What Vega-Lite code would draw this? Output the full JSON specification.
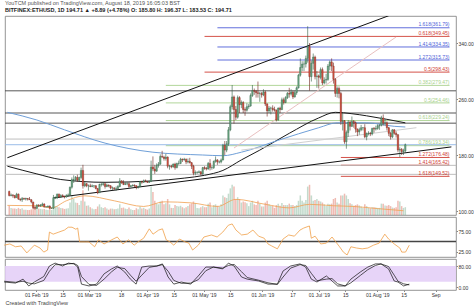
{
"$schema": "https://vega.github.io/schema/vega-lite/v6.json",
"padding": {"left": 2, "top": 1, "right": 0, "bottom": 0},
"background": "white",
"title": {"text": "YouTCM published on TradingView.com, August 18, 2019 16:05:03 BST", "subtitle": "BITFINEX:ETHUSD, 1D  194.71 ▲ +8.89 (+4.78%) O: 185.80 H: 196.37 L: 183.53 C: 194.71", "anchor": "start", "frame": "group", "fontSize": 5.5, "fontWeight": "normal", "color": "#555", "subtitleFontSize": 5.5, "subtitleColor": "#222", "subtitleFontWeight": "bold", "subtitlePadding": 1.5, "offset": 2, "font": "Liberation Sans", "subtitleFont": "Liberation Sans"},
"datasets": {
"ohlc": [
{"t":"2019-01-15","o":128,"h":129,"l":121,"c":122,"v":25},
{"t":"2019-01-16","o":122,"h":125,"l":121,"c":123,"v":20},
{"t":"2019-01-17","o":123,"h":124,"l":119,"c":122,"v":18},
{"t":"2019-01-18","o":122,"h":123,"l":118,"c":119,"v":18},
{"t":"2019-01-19","o":119,"h":126,"l":119,"c":124,"v":17},
{"t":"2019-01-20","o":124,"h":125,"l":116,"c":117,"v":20},
{"t":"2019-01-21","o":117,"h":118,"l":114,"c":116,"v":17},
{"t":"2019-01-22","o":116,"h":120,"l":113,"c":118,"v":19},
{"t":"2019-01-23","o":118,"h":119,"l":116,"c":117,"v":15},
{"t":"2019-01-24","o":117,"h":119,"l":115,"c":118,"v":15},
{"t":"2019-01-25","o":118,"h":118,"l":115,"c":117,"v":14},
{"t":"2019-01-26","o":117,"h":120,"l":116,"c":116,"v":14},
{"t":"2019-01-27","o":116,"h":117,"l":111,"c":113,"v":16},
{"t":"2019-01-28","o":113,"h":113,"l":103,"c":105,"v":28},
{"t":"2019-01-29","o":105,"h":107,"l":102,"c":104,"v":22},
{"t":"2019-01-30","o":104,"h":110,"l":103,"c":108,"v":20},
{"t":"2019-01-31","o":108,"h":110,"l":106,"c":107,"v":18},
{"t":"2019-02-01","o":107,"h":110,"l":106,"c":108,"v":17},
{"t":"2019-02-02","o":108,"h":112,"l":107,"c":110,"v":16},
{"t":"2019-02-03","o":110,"h":111,"l":105,"c":106,"v":17},
{"t":"2019-02-04","o":106,"h":107,"l":105,"c":106,"v":15},
{"t":"2019-02-05","o":106,"h":108,"l":105,"c":107,"v":14},
{"t":"2019-02-06","o":107,"h":108,"l":103,"c":104,"v":17},
{"t":"2019-02-07","o":104,"h":105,"l":103,"c":104,"v":14},
{"t":"2019-02-08","o":104,"h":123,"l":103,"c":119,"v":45},
{"t":"2019-02-09","o":119,"h":121,"l":117,"c":119,"v":25},
{"t":"2019-02-10","o":119,"h":125,"l":117,"c":124,"v":24},
{"t":"2019-02-11","o":124,"h":125,"l":119,"c":120,"v":22},
{"t":"2019-02-12","o":120,"h":124,"l":119,"c":122,"v":20},
{"t":"2019-02-13","o":122,"h":124,"l":120,"c":121,"v":19},
{"t":"2019-02-14","o":121,"h":122,"l":118,"c":120,"v":17},
{"t":"2019-02-15","o":120,"h":124,"l":119,"c":122,"v":18},
{"t":"2019-02-16","o":122,"h":125,"l":121,"c":123,"v":19},
{"t":"2019-02-17","o":123,"h":135,"l":122,"c":134,"v":35},
{"t":"2019-02-18","o":134,"h":148,"l":132,"c":145,"v":55},
{"t":"2019-02-19","o":145,"h":151,"l":140,"c":145,"v":45},
{"t":"2019-02-20","o":145,"h":150,"l":143,"c":148,"v":35},
{"t":"2019-02-21","o":148,"h":152,"l":142,"c":144,"v":34},
{"t":"2019-02-22","o":144,"h":149,"l":143,"c":148,"v":28},
{"t":"2019-02-23","o":148,"h":162,"l":146,"c":158,"v":40},
{"t":"2019-02-24","o":158,"h":166,"l":132,"c":136,"v":70},
{"t":"2019-02-25","o":136,"h":142,"l":134,"c":139,"v":38},
{"t":"2019-02-26","o":139,"h":140,"l":134,"c":136,"v":26},
{"t":"2019-02-27","o":136,"h":138,"l":129,"c":136,"v":27},
{"t":"2019-02-28","o":136,"h":139,"l":134,"c":135,"v":22},
{"t":"2019-03-01","o":135,"h":138,"l":134,"c":136,"v":18},
{"t":"2019-03-02","o":136,"h":137,"l":133,"c":136,"v":16},
{"t":"2019-03-03","o":136,"h":137,"l":131,"c":132,"v":17},
{"t":"2019-03-04","o":132,"h":133,"l":124,"c":126,"v":24},
{"t":"2019-03-05","o":126,"h":139,"l":126,"c":138,"v":30},
{"t":"2019-03-06","o":138,"h":140,"l":135,"c":138,"v":22},
{"t":"2019-03-07","o":138,"h":141,"l":136,"c":139,"v":20},
{"t":"2019-03-08","o":139,"h":141,"l":132,"c":135,"v":22},
{"t":"2019-03-09","o":135,"h":139,"l":134,"c":137,"v":18},
{"t":"2019-03-10","o":137,"h":138,"l":134,"c":136,"v":15},
{"t":"2019-03-11","o":136,"h":137,"l":131,"c":133,"v":18},
{"t":"2019-03-12","o":133,"h":135,"l":130,"c":133,"v":18},
{"t":"2019-03-13","o":133,"h":134,"l":130,"c":132,"v":16},
{"t":"2019-03-14","o":132,"h":135,"l":129,"c":132,"v":17},
{"t":"2019-03-15","o":132,"h":137,"l":131,"c":135,"v":18},
{"t":"2019-03-16","o":135,"h":147,"l":134,"c":143,"v":30},
{"t":"2019-03-17","o":143,"h":144,"l":139,"c":140,"v":20},
{"t":"2019-03-18","o":140,"h":144,"l":137,"c":138,"v":21},
{"t":"2019-03-19","o":138,"h":141,"l":137,"c":139,"v":18},
{"t":"2019-03-20","o":139,"h":141,"l":137,"c":139,"v":17},
{"t":"2019-03-21","o":139,"h":141,"l":133,"c":135,"v":21},
{"t":"2019-03-22","o":135,"h":137,"l":134,"c":136,"v":16},
{"t":"2019-03-23","o":136,"h":138,"l":135,"c":137,"v":14},
{"t":"2019-03-24","o":137,"h":138,"l":134,"c":136,"v":14},
{"t":"2019-03-25","o":136,"h":137,"l":131,"c":134,"v":19},
{"t":"2019-03-26","o":134,"h":136,"l":132,"c":135,"v":16},
{"t":"2019-03-27","o":135,"h":143,"l":134,"c":142,"v":24},
{"t":"2019-03-28","o":142,"h":143,"l":139,"c":141,"v":18},
{"t":"2019-03-29","o":141,"h":145,"l":140,"c":143,"v":20},
{"t":"2019-03-30","o":143,"h":145,"l":141,"c":142,"v":17},
{"t":"2019-03-31","o":142,"h":143,"l":140,"c":141,"v":15},
{"t":"2019-04-01","o":141,"h":143,"l":140,"c":142,"v":18},
{"t":"2019-04-02","o":142,"h":172,"l":142,"c":163,"v":80},
{"t":"2019-04-03","o":163,"h":178,"l":157,"c":160,"v":65},
{"t":"2019-04-04","o":160,"h":166,"l":153,"c":157,"v":40},
{"t":"2019-04-05","o":157,"h":168,"l":156,"c":165,"v":32},
{"t":"2019-04-06","o":165,"h":170,"l":162,"c":167,"v":30},
{"t":"2019-04-07","o":167,"h":181,"l":166,"c":178,"v":38},
{"t":"2019-04-08","o":178,"h":186,"l":176,"c":177,"v":40},
{"t":"2019-04-09","o":177,"h":179,"l":172,"c":175,"v":30},
{"t":"2019-04-10","o":175,"h":182,"l":172,"c":177,"v":33},
{"t":"2019-04-11","o":177,"h":178,"l":161,"c":164,"v":45},
{"t":"2019-04-12","o":164,"h":166,"l":159,"c":164,"v":30},
{"t":"2019-04-13","o":164,"h":166,"l":161,"c":163,"v":20},
{"t":"2019-04-14","o":163,"h":168,"l":162,"c":167,"v":20},
{"t":"2019-04-15","o":167,"h":169,"l":159,"c":162,"v":28},
{"t":"2019-04-16","o":162,"h":169,"l":161,"c":168,"v":25},
{"t":"2019-04-17","o":168,"h":172,"l":166,"c":168,"v":24},
{"t":"2019-04-18","o":168,"h":176,"l":167,"c":174,"v":26},
{"t":"2019-04-19","o":174,"h":175,"l":170,"c":173,"v":22},
{"t":"2019-04-20","o":173,"h":176,"l":172,"c":174,"v":19},
{"t":"2019-04-21","o":174,"h":175,"l":167,"c":170,"v":22},
{"t":"2019-04-22","o":170,"h":175,"l":168,"c":171,"v":25},
{"t":"2019-04-23","o":171,"h":176,"l":168,"c":169,"v":30},
{"t":"2019-04-24","o":169,"h":170,"l":160,"c":164,"v":33},
{"t":"2019-04-25","o":164,"h":166,"l":151,"c":154,"v":38},
{"t":"2019-04-26","o":154,"h":158,"l":151,"c":155,"v":33},
{"t":"2019-04-27","o":155,"h":157,"l":153,"c":155,"v":20},
{"t":"2019-04-28","o":155,"h":158,"l":154,"c":156,"v":19},
{"t":"2019-04-29","o":156,"h":157,"l":151,"c":153,"v":22},
{"t":"2019-04-30","o":153,"h":163,"l":152,"c":162,"v":25},
{"t":"2019-05-01","o":162,"h":164,"l":159,"c":161,"v":22},
{"t":"2019-05-02","o":161,"h":163,"l":158,"c":160,"v":22},
{"t":"2019-05-03","o":160,"h":170,"l":159,"c":168,"v":32},
{"t":"2019-05-04","o":168,"h":174,"l":158,"c":162,"v":35},
{"t":"2019-05-05","o":162,"h":164,"l":159,"c":162,"v":22},
{"t":"2019-05-06","o":162,"h":172,"l":160,"c":171,"v":28},
{"t":"2019-05-07","o":171,"h":178,"l":169,"c":173,"v":30},
{"t":"2019-05-08","o":173,"h":174,"l":166,"c":170,"v":26},
{"t":"2019-05-09","o":170,"h":172,"l":168,"c":170,"v":24},
{"t":"2019-05-10","o":170,"h":175,"l":168,"c":173,"v":30},
{"t":"2019-05-11","o":173,"h":196,"l":172,"c":194,"v":55},
{"t":"2019-05-12","o":194,"h":200,"l":180,"c":187,"v":50},
{"t":"2019-05-13","o":187,"h":200,"l":184,"c":196,"v":48},
{"t":"2019-05-14","o":196,"h":220,"l":193,"c":216,"v":60},
{"t":"2019-05-15","o":216,"h":252,"l":214,"c":249,"v":75},
{"t":"2019-05-16","o":249,"h":280,"l":245,"c":263,"v":85},
{"t":"2019-05-17","o":263,"h":265,"l":225,"c":245,"v":80},
{"t":"2019-05-18","o":245,"h":250,"l":230,"c":234,"v":45},
{"t":"2019-05-19","o":234,"h":265,"l":232,"c":262,"v":50},
{"t":"2019-05-20","o":262,"h":264,"l":240,"c":252,"v":45},
{"t":"2019-05-21","o":252,"h":258,"l":247,"c":255,"v":35},
{"t":"2019-05-22","o":255,"h":257,"l":240,"c":245,"v":38},
{"t":"2019-05-23","o":245,"h":248,"l":236,"c":244,"v":36},
{"t":"2019-05-24","o":244,"h":254,"l":242,"c":249,"v":33},
{"t":"2019-05-25","o":249,"h":253,"l":246,"c":250,"v":25},
{"t":"2019-05-26","o":250,"h":268,"l":249,"c":265,"v":35},
{"t":"2019-05-27","o":265,"h":280,"l":263,"c":272,"v":40},
{"t":"2019-05-28","o":272,"h":275,"l":266,"c":271,"v":30},
{"t":"2019-05-29","o":271,"h":273,"l":262,"c":269,"v":28},
{"t":"2019-05-30","o":269,"h":285,"l":262,"c":268,"v":40},
{"t":"2019-05-31","o":268,"h":270,"l":256,"c":268,"v":32},
{"t":"2019-06-01","o":268,"h":270,"l":262,"c":266,"v":24},
{"t":"2019-06-02","o":266,"h":274,"l":264,"c":270,"v":24},
{"t":"2019-06-03","o":270,"h":272,"l":250,"c":253,"v":35},
{"t":"2019-06-04","o":253,"h":254,"l":235,"c":243,"v":40},
{"t":"2019-06-05","o":243,"h":250,"l":240,"c":247,"v":30},
{"t":"2019-06-06","o":247,"h":249,"l":238,"c":247,"v":26},
{"t":"2019-06-07","o":247,"h":251,"l":242,"c":245,"v":26},
{"t":"2019-06-08","o":245,"h":249,"l":242,"c":244,"v":20},
{"t":"2019-06-09","o":244,"h":245,"l":228,"c":230,"v":28},
{"t":"2019-06-10","o":230,"h":248,"l":229,"c":247,"v":32},
{"t":"2019-06-11","o":247,"h":249,"l":240,"c":245,"v":26},
{"t":"2019-06-12","o":245,"h":262,"l":244,"c":259,"v":34},
{"t":"2019-06-13","o":259,"h":262,"l":252,"c":255,"v":28},
{"t":"2019-06-14","o":255,"h":264,"l":254,"c":262,"v":28},
{"t":"2019-06-15","o":262,"h":270,"l":260,"c":268,"v":28},
{"t":"2019-06-16","o":268,"h":276,"l":262,"c":267,"v":32},
{"t":"2019-06-17","o":267,"h":274,"l":265,"c":270,"v":28},
{"t":"2019-06-18","o":270,"h":272,"l":260,"c":263,"v":28},
{"t":"2019-06-19","o":263,"h":272,"l":262,"c":269,"v":25},
{"t":"2019-06-20","o":269,"h":278,"l":266,"c":276,"v":28},
{"t":"2019-06-21","o":276,"h":296,"l":275,"c":294,"v":40},
{"t":"2019-06-22","o":294,"h":318,"l":292,"c":305,"v":55},
{"t":"2019-06-23","o":305,"h":314,"l":300,"c":310,"v":40},
{"t":"2019-06-24","o":310,"h":314,"l":300,"c":310,"v":35},
{"t":"2019-06-25","o":310,"h":322,"l":305,"c":318,"v":42},
{"t":"2019-06-26","o":318,"h":364,"l":312,"c":335,"v":80},
{"t":"2019-06-27","o":335,"h":340,"l":272,"c":292,"v":85},
{"t":"2019-06-28","o":292,"h":315,"l":285,"c":311,"v":55},
{"t":"2019-06-29","o":311,"h":325,"l":302,"c":320,"v":40},
{"t":"2019-06-30","o":320,"h":322,"l":288,"c":292,"v":42},
{"t":"2019-07-01","o":292,"h":300,"l":276,"c":293,"v":45},
{"t":"2019-07-02","o":293,"h":295,"l":275,"c":291,"v":40},
{"t":"2019-07-03","o":291,"h":305,"l":288,"c":302,"v":38},
{"t":"2019-07-04","o":302,"h":305,"l":280,"c":283,"v":35},
{"t":"2019-07-05","o":283,"h":291,"l":281,"c":287,"v":30},
{"t":"2019-07-06","o":287,"h":296,"l":282,"c":288,"v":25},
{"t":"2019-07-07","o":288,"h":310,"l":286,"c":307,"v":32},
{"t":"2019-07-08","o":307,"h":315,"l":301,"c":313,"v":30},
{"t":"2019-07-09","o":313,"h":318,"l":300,"c":307,"v":32},
{"t":"2019-07-10","o":307,"h":312,"l":282,"c":288,"v":45},
{"t":"2019-07-11","o":288,"h":290,"l":263,"c":268,"v":48},
{"t":"2019-07-12","o":268,"h":278,"l":262,"c":275,"v":35},
{"t":"2019-07-13","o":275,"h":278,"l":261,"c":268,"v":32},
{"t":"2019-07-14","o":268,"h":270,"l":223,"c":228,"v":55},
{"t":"2019-07-15","o":228,"h":240,"l":215,"c":229,"v":55},
{"t":"2019-07-16","o":229,"h":230,"l":196,"c":199,"v":60},
{"t":"2019-07-17","o":199,"h":215,"l":189,"c":212,"v":55},
{"t":"2019-07-18","o":212,"h":230,"l":206,"c":227,"v":45},
{"t":"2019-07-19","o":227,"h":229,"l":215,"c":221,"v":33},
{"t":"2019-07-20","o":221,"h":235,"l":220,"c":228,"v":30},
{"t":"2019-07-21","o":228,"h":230,"l":219,"c":226,"v":26},
{"t":"2019-07-22","o":226,"h":228,"l":212,"c":217,"v":28},
{"t":"2019-07-23","o":217,"h":218,"l":207,"c":213,"v":30},
{"t":"2019-07-24","o":213,"h":219,"l":209,"c":216,"v":27},
{"t":"2019-07-25","o":216,"h":223,"l":214,"c":219,"v":24},
{"t":"2019-07-26","o":219,"h":220,"l":215,"c":219,"v":20},
{"t":"2019-07-27","o":219,"h":224,"l":204,"c":206,"v":30},
{"t":"2019-07-28","o":206,"h":212,"l":201,"c":211,"v":25},
{"t":"2019-07-29","o":211,"h":214,"l":208,"c":211,"v":20},
{"t":"2019-07-30","o":211,"h":213,"l":207,"c":210,"v":19},
{"t":"2019-07-31","o":210,"h":219,"l":208,"c":218,"v":22},
{"t":"2019-08-01","o":218,"h":220,"l":212,"c":217,"v":22},
{"t":"2019-08-02","o":217,"h":222,"l":215,"c":218,"v":21},
{"t":"2019-08-03","o":218,"h":224,"l":216,"c":222,"v":20},
{"t":"2019-08-04","o":222,"h":224,"l":216,"c":222,"v":20},
{"t":"2019-08-05","o":222,"h":236,"l":221,"c":233,"v":32},
{"t":"2019-08-06","o":233,"h":238,"l":222,"c":226,"v":32},
{"t":"2019-08-07","o":226,"h":231,"l":222,"c":226,"v":27},
{"t":"2019-08-08","o":226,"h":228,"l":215,"c":219,"v":26},
{"t":"2019-08-09","o":219,"h":220,"l":207,"c":211,"v":28},
{"t":"2019-08-10","o":211,"h":213,"l":202,"c":206,"v":25},
{"t":"2019-08-11","o":206,"h":217,"l":204,"c":216,"v":21},
{"t":"2019-08-12","o":216,"h":217,"l":209,"c":211,"v":20},
{"t":"2019-08-13","o":211,"h":214,"l":205,"c":209,"v":22},
{"t":"2019-08-14","o":209,"h":210,"l":184,"c":187,"v":40},
{"t":"2019-08-15","o":187,"h":191,"l":177,"c":188,"v":38},
{"t":"2019-08-16","o":188,"h":190,"l":180,"c":185,"v":25},
{"t":"2019-08-17","o":185,"h":189,"l":180,"c":186,"v":20},
{"t":"2019-08-18","o":185.8,"h":196.37,"l":183.53,"c":194.71,"v":22}
],
"vma": [
{"t":"2019-01-14","v":27},{"t":"2019-01-30","v":26},{"t":"2019-02-07","v":20},{"t":"2019-02-15","v":40},{"t":"2019-02-25","v":54},{"t":"2019-03-13","v":40},{"t":"2019-03-29","v":24},{"t":"2019-04-09","v":37},{"t":"2019-04-24","v":34},{"t":"2019-05-08","v":24},{"t":"2019-05-18","v":44},{"t":"2019-06-03","v":30},{"t":"2019-06-16","v":20},{"t":"2019-06-27","v":30},{"t":"2019-07-10","v":26},{"t":"2019-07-21","v":24},{"t":"2019-08-03","v":18},{"t":"2019-08-17","v":12}
],
"ln": [
{"id":"b","t":"2019-01-14","p":164},{"id":"b","t":"2019-01-30","p":153},{"id":"b","t":"2019-02-12","p":145},{"id":"b","t":"2019-03-08","p":141},{"id":"b","t":"2019-04-03","p":143},{"id":"b","t":"2019-04-20","p":147},{"id":"b","t":"2019-05-01","p":151},{"id":"b","t":"2019-05-11","p":158},{"id":"b","t":"2019-05-21","p":173},{"id":"b","t":"2019-05-31","p":187},{"id":"b","t":"2019-06-16","p":211},{"id":"b","t":"2019-07-02","p":233},{"id":"b","t":"2019-07-11","p":241},{"id":"b","t":"2019-07-20","p":239},{"id":"b","t":"2019-07-28","p":236},{"id":"b","t":"2019-08-08","p":231},{"id":"b","t":"2019-08-18","p":226},
{"id":"u","t":"2019-01-14","p":241},{"id":"u","t":"2019-01-30","p":230},{"id":"u","t":"2019-02-14","p":216},{"id":"u","t":"2019-03-08","p":197},{"id":"u","t":"2019-04-03","p":184},{"id":"u","t":"2019-04-30","p":180},{"id":"u","t":"2019-05-11","p":179},{"id":"u","t":"2019-05-21","p":184},{"id":"u","t":"2019-06-10","p":201},{"id":"u","t":"2019-07-02","p":219},{"id":"u","t":"2019-07-12","p":226},{"id":"u","t":"2019-07-28","p":226},{"id":"u","t":"2019-08-12","p":221},{"id":"u","t":"2019-08-18","p":220},
{"id":"up","t":"2019-01-14","p":176.1},{"id":"up","t":"2019-08-09","p":379},
{"id":"lo","t":"2019-02-08","p":118.6},{"id":"lo","t":"2019-09-12","p":191.6},
{"id":"f1","t":"2019-05-17","p":190},{"id":"f1","t":"2019-08-13","p":348.6},
{"id":"f2","t":"2019-05-21","p":187},{"id":"f2","t":"2019-08-24","p":219}
],
"hl": [
{"k":"ext","p":361.79,"s":"2019-05-08","e":"2019-09-11","lab":"1.618(361.79)"},
{"k":"red","p":349.45,"s":"2019-05-01","e":"2019-09-11","lab":"0.618(349.45)"},
{"k":"ext","p":334.35,"s":"2019-05-08","e":"2019-09-11","lab":"1.414(334.35)"},
{"k":"ext","p":315.73,"s":"2019-05-08","e":"2019-09-11","lab":"1.272(315.73)"},
{"k":"red","p":298.43,"s":"2019-05-01","e":"2019-09-11","lab":"0.5(298.43)"},
{"k":"grn","p":279.47,"s":"2019-04-10","e":"2019-09-11","lab":"0.382(279.47)"},
{"k":"grn","p":254.46,"s":"2019-04-10","e":"2019-09-11","lab":"0.5(254.46)"},
{"k":"grn","p":229.24,"s":"2019-04-10","e":"2019-09-11","lab":"0.618(229.24)"},
{"k":"grn","p":193.34,"s":"2019-04-10","e":"2019-09-11","lab":"0.786(193.34)"},
{"k":"red","p":176.48,"s":"2019-07-14","e":"2019-09-11","lab":"1.272(176.48)"},
{"k":"red","p":165.42,"s":"2019-07-14","e":"2019-09-11","lab":"1.414(165.42)"},
{"k":"red","p":149.52,"s":"2019-07-14","e":"2019-09-11","lab":"1.618(149.52)"},
{"k":"dark","p":271.7,"s":"2019-01-01","e":"2019-09-30","lab":""},
{"k":"dark","p":240,"s":"2019-01-01","e":"2019-09-30","lab":""},
{"k":"dark","p":225.5,"s":"2019-01-01","e":"2019-09-30","lab":""},
{"k":"gray","p":202.79,"s":"2019-01-01","e":"2019-09-30","lab":""},
{"k":"gray","p":165.23,"s":"2019-01-01","e":"2019-09-30","lab":""},
{"k":"gray","p":152.38,"s":"2019-01-01","e":"2019-09-30","lab":""},
{"k":"cur","p":194.71,"s":"2019-01-01","e":"2019-09-30","lab":""}
],
"rsi": [
{"t":"2019-01-15","r":41},{"t":"2019-01-18","r":44},{"t":"2019-01-21","r":37},{"t":"2019-01-24","r":39},{"t":"2019-01-27","r":22},{"t":"2019-01-31","r":41},{"t":"2019-02-03","r":34},{"t":"2019-02-05","r":24},{"t":"2019-02-07","r":29},{"t":"2019-02-08","r":73},{"t":"2019-02-10","r":68},{"t":"2019-02-13","r":73},{"t":"2019-02-16","r":78},{"t":"2019-02-18","r":85},{"t":"2019-02-20","r":85},{"t":"2019-02-22","r":80},{"t":"2019-02-23","r":83},{"t":"2019-02-24","r":49},{"t":"2019-02-27","r":49},{"t":"2019-03-01","r":49},{"t":"2019-03-04","r":37},{"t":"2019-03-06","r":54},{"t":"2019-03-09","r":44},{"t":"2019-03-13","r":54},{"t":"2019-03-16","r":61},{"t":"2019-03-19","r":44},{"t":"2019-03-22","r":54},{"t":"2019-03-25","r":41},{"t":"2019-03-27","r":49},{"t":"2019-03-30","r":58},{"t":"2019-04-02","r":81},{"t":"2019-04-04","r":68},{"t":"2019-04-07","r":78},{"t":"2019-04-09","r":81},{"t":"2019-04-11","r":54},{"t":"2019-04-13","r":49},{"t":"2019-04-15","r":41},{"t":"2019-04-18","r":56},{"t":"2019-04-21","r":49},{"t":"2019-04-23","r":46},{"t":"2019-04-25","r":29},{"t":"2019-04-28","r":41},{"t":"2019-05-01","r":61},{"t":"2019-05-05","r":66},{"t":"2019-05-08","r":61},{"t":"2019-05-11","r":73},{"t":"2019-05-14","r":90},{"t":"2019-05-16","r":93},{"t":"2019-05-18","r":78},{"t":"2019-05-21","r":66},{"t":"2019-05-24","r":68},{"t":"2019-05-27","r":78},{"t":"2019-05-30","r":63},{"t":"2019-06-02","r":58},{"t":"2019-06-04","r":44},{"t":"2019-06-06","r":39},{"t":"2019-06-09","r":32},{"t":"2019-06-12","r":56},{"t":"2019-06-15","r":66},{"t":"2019-06-18","r":63},{"t":"2019-06-21","r":78},{"t":"2019-06-23","r":83},{"t":"2019-06-26","r":88},{"t":"2019-06-27","r":58},{"t":"2019-06-29","r":63},{"t":"2019-07-02","r":44},{"t":"2019-07-05","r":46},{"t":"2019-07-08","r":61},{"t":"2019-07-10","r":49},{"t":"2019-07-12","r":37},{"t":"2019-07-14","r":24},{"t":"2019-07-16","r":17},{"t":"2019-07-18","r":37},{"t":"2019-07-21","r":34},{"t":"2019-07-24","r":32},{"t":"2019-07-27","r":34},{"t":"2019-07-30","r":41},{"t":"2019-08-02","r":46},{"t":"2019-08-05","r":68},{"t":"2019-08-07","r":56},{"t":"2019-08-10","r":44},{"t":"2019-08-13","r":34},{"t":"2019-08-14","r":24},{"t":"2019-08-16","r":24},{"t":"2019-08-18","r":41}
],
"st": [
{"s":"K","t":"2019-01-15","v":19},{"s":"K","t":"2019-01-21","v":15},{"s":"K","t":"2019-01-25","v":30},{"s":"K","t":"2019-01-28","v":4},{"s":"K","t":"2019-01-31","v":19},{"s":"K","t":"2019-02-05","v":40},{"s":"K","t":"2019-02-08","v":80},{"s":"K","t":"2019-02-11","v":91},{"s":"K","t":"2019-02-15","v":80},{"s":"K","t":"2019-02-18","v":91},{"s":"K","t":"2019-02-21","v":88},{"s":"K","t":"2019-02-23","v":76},{"s":"K","t":"2019-02-25","v":11},{"s":"K","t":"2019-03-01","v":4},{"s":"K","t":"2019-03-05","v":11},{"s":"K","t":"2019-03-09","v":50},{"s":"K","t":"2019-03-13","v":69},{"s":"K","t":"2019-03-16","v":80},{"s":"K","t":"2019-03-20","v":57},{"s":"K","t":"2019-03-23","v":30},{"s":"K","t":"2019-03-26","v":11},{"s":"K","t":"2019-03-29","v":76},{"s":"K","t":"2019-04-02","v":80},{"s":"K","t":"2019-04-06","v":80},{"s":"K","t":"2019-04-09","v":88},{"s":"K","t":"2019-04-12","v":38},{"s":"K","t":"2019-04-15","v":11},{"s":"K","t":"2019-04-19","v":19},{"s":"K","t":"2019-04-24","v":11},{"s":"K","t":"2019-04-28","v":42},{"s":"K","t":"2019-05-02","v":76},{"s":"K","t":"2019-05-06","v":76},{"s":"K","t":"2019-05-11","v":69},{"s":"K","t":"2019-05-14","v":91},{"s":"K","t":"2019-05-17","v":80},{"s":"K","t":"2019-05-21","v":38},{"s":"K","t":"2019-05-24","v":30},{"s":"K","t":"2019-05-30","v":23},{"s":"K","t":"2019-06-04","v":11},{"s":"K","t":"2019-06-09","v":11},{"s":"K","t":"2019-06-12","v":61},{"s":"K","t":"2019-06-16","v":80},{"s":"K","t":"2019-06-21","v":88},{"s":"K","t":"2019-06-24","v":76},{"s":"K","t":"2019-06-27","v":30},{"s":"K","t":"2019-06-30","v":19},{"s":"K","t":"2019-07-05","v":42},{"s":"K","t":"2019-07-08","v":23},{"s":"K","t":"2019-07-11","v":4},{"s":"K","t":"2019-07-15","v":4},{"s":"K","t":"2019-07-18","v":30},{"s":"K","t":"2019-07-23","v":57},{"s":"K","t":"2019-07-27","v":76},{"s":"K","t":"2019-07-31","v":88},{"s":"K","t":"2019-08-03","v":88},{"s":"K","t":"2019-08-07","v":69},{"s":"K","t":"2019-08-10","v":23},{"s":"K","t":"2019-08-12","v":19},{"s":"K","t":"2019-08-15","v":4},{"s":"K","t":"2019-08-18","v":11},
{"s":"D","t":"2019-01-15","v":22},{"s":"D","t":"2019-01-21","v":18},{"s":"D","t":"2019-01-25","v":22},{"s":"D","t":"2019-01-28","v":15},{"s":"D","t":"2019-01-31","v":12},{"s":"D","t":"2019-02-05","v":25},{"s":"D","t":"2019-02-08","v":60},{"s":"D","t":"2019-02-11","v":85},{"s":"D","t":"2019-02-15","v":85},{"s":"D","t":"2019-02-18","v":88},{"s":"D","t":"2019-02-21","v":90},{"s":"D","t":"2019-02-23","v":82},{"s":"D","t":"2019-02-25","v":40},{"s":"D","t":"2019-03-01","v":10},{"s":"D","t":"2019-03-05","v":6},{"s":"D","t":"2019-03-09","v":30},{"s":"D","t":"2019-03-13","v":58},{"s":"D","t":"2019-03-16","v":75},{"s":"D","t":"2019-03-20","v":70},{"s":"D","t":"2019-03-23","v":45},{"s":"D","t":"2019-03-26","v":22},{"s":"D","t":"2019-03-29","v":45},{"s":"D","t":"2019-04-02","v":75},{"s":"D","t":"2019-04-06","v":80},{"s":"D","t":"2019-04-09","v":85},{"s":"D","t":"2019-04-12","v":60},{"s":"D","t":"2019-04-15","v":25},{"s":"D","t":"2019-04-19","v":14},{"s":"D","t":"2019-04-24","v":15},{"s":"D","t":"2019-04-28","v":28},{"s":"D","t":"2019-05-02","v":62},{"s":"D","t":"2019-05-06","v":76},{"s":"D","t":"2019-05-11","v":72},{"s":"D","t":"2019-05-14","v":82},{"s":"D","t":"2019-05-17","v":86},{"s":"D","t":"2019-05-21","v":58},{"s":"D","t":"2019-05-24","v":36},{"s":"D","t":"2019-05-30","v":26},{"s":"D","t":"2019-06-04","v":16},{"s":"D","t":"2019-06-09","v":10},{"s":"D","t":"2019-06-12","v":38},{"s":"D","t":"2019-06-16","v":72},{"s":"D","t":"2019-06-21","v":85},{"s":"D","t":"2019-06-24","v":82},{"s":"D","t":"2019-06-27","v":52},{"s":"D","t":"2019-06-30","v":24},{"s":"D","t":"2019-07-05","v":30},{"s":"D","t":"2019-07-08","v":32},{"s":"D","t":"2019-07-11","v":12},{"s":"D","t":"2019-07-15","v":4},{"s":"D","t":"2019-07-18","v":16},{"s":"D","t":"2019-07-23","v":44},{"s":"D","t":"2019-07-27","v":66},{"s":"D","t":"2019-07-31","v":82},{"s":"D","t":"2019-08-03","v":88},{"s":"D","t":"2019-08-07","v":78},{"s":"D","t":"2019-08-10","v":45},{"s":"D","t":"2019-08-12","v":22},{"s":"D","t":"2019-08-15","v":12},{"s":"D","t":"2019-08-18","v":8}
]
},
"spacing": 0,
"vconcat": [
{
"width": 451, "height": 199,
"layer": [
{"data": {"name": "ohlc"}, "mark": {"type": "bar", "size": 1.5, "opacity": 0.4}, "encoding": {
 "x": {"field": "t", "type": "temporal", "axis": null, "scale": {"type": "utc", "domain": [{"year": 2019, "month": 1, "date": 15, "hours": 10, "utc": true}, {"year": 2019, "month": 9, "date": 11, "hours": 19, "utc": true}]}},
 "y": {"field": "v", "type": "quantitative", "axis": null, "scale": {"domain": [0, 560], "nice": false}},
 "color": {"condition": {"test": "datum.c >= datum.o", "value": "#6ba583"}, "value": "#d75442"}}},
{"data": {"name": "vma"}, "mark": {"type": "line", "color": "#f0a050", "strokeWidth": 0.8, "interpolate": "monotone"}, "encoding": {
 "x": {"field": "t", "type": "temporal", "axis": null, "scale": {"type": "utc", "domain": [{"year": 2019, "month": 1, "date": 15, "hours": 10, "utc": true}, {"year": 2019, "month": 9, "date": 11, "hours": 19, "utc": true}]}},
 "y": {"field": "v", "type": "quantitative", "axis": null, "scale": {"domain": [0, 560], "nice": false}}}},
{"layer": [
 {"data": {"name": "hl"}, "mark": {"type": "rule", "clip": true}, "encoding": {
  "x": {"field": "s", "type": "temporal", "axis": null, "scale": {"type": "utc", "domain": [{"year": 2019, "month": 1, "date": 15, "hours": 10, "utc": true}, {"year": 2019, "month": 9, "date": 11, "hours": 19, "utc": true}]}},
  "x2": {"field": "e"},
  "y": {"field": "p", "type": "quantitative", "scale": {"domain": [94.3, 378.6], "nice": false, "zero": false}, "axis": {"orient": "right", "values": [100, 120, 140, 160, 180, 200, 220, 240, 260, 280, 300, 320, 340], "format": ".2f", "title": null}},
  "color": {"field": "k", "type": "nominal", "legend": null, "scale": {"domain": ["ext", "red", "grn", "dark", "gray", "cur"], "range": ["#4f5fd8", "#cf3e36", "#a9d18e", "#444444", "#b8b8b8", "#8fb4e6"]}},
  "size": {"field": "k", "type": "nominal", "legend": null, "scale": {"domain": ["ext", "red", "grn", "dark", "gray", "cur"], "range": [0.9, 0.9, 0.9, 1.2, 0.8, 0.8]}}}},
 {"data": {"name": "hl"}, "mark": {"type": "text", "align": "right", "baseline": "bottom", "dy": -0.3, "fontSize": 5, "font": "Liberation Sans"}, "encoding": {
  "x": {"field": "e", "type": "temporal"},
  "y": {"field": "p", "type": "quantitative"},
  "text": {"field": "lab"},
  "color": {"field": "k", "type": "nominal", "legend": null}}},
 {"data": {"name": "ln"}, "mark": {"type": "line", "clip": true, "interpolate": "monotone"}, "encoding": {
  "x": {"field": "t", "type": "temporal"},
  "y": {"field": "p", "type": "quantitative"},
  "detail": {"field": "id"},
  "stroke": {"field": "id", "type": "nominal", "legend": null, "scale": {"domain": ["up", "lo", "f1", "f2", "b", "u"], "range": ["#111111", "#111111", "#e9c0c0", "#d0d0d0", "#1a1a1a", "#6f9fd8"]}},
  "strokeWidth": {"field": "id", "type": "nominal", "legend": null, "scale": {"domain": ["up", "lo", "f1", "f2", "b", "u"], "range": [1, 1, 0.7, 0.7, 1.1, 0.9]}}}},
 {"data": {"name": "ohlc"}, "mark": {"type": "rule", "strokeWidth": 0.6}, "encoding": {
  "x": {"field": "t", "type": "temporal"},
  "y": {"field": "l", "type": "quantitative"},
  "y2": {"field": "h"},
  "color": {"condition": {"test": "datum.c >= datum.o", "value": "#2f5c3f"}, "value": "#6b2219"}}},
 {"data": {"name": "ohlc"}, "mark": {"type": "bar", "size": 1.5, "strokeWidth": 0.3}, "encoding": {
  "x": {"field": "t", "type": "temporal"},
  "y": {"field": "o", "type": "quantitative"},
  "y2": {"field": "c"},
  "color": {"condition": {"test": "datum.c >= datum.o", "value": "#6ba583"}, "value": "#d75442"},
  "stroke": {"condition": {"test": "datum.c >= datum.o", "value": "#225437"}, "value": "#5b1a13"}}}
]}
],
"resolve": {"scale": {"y": "independent"}}
},
{
"width": 451, "height": 40,
"layer": [
 {"data": {"values": [{"y": 50}]}, "mark": {"type": "rule", "color": "#444444", "strokeWidth": 1.3}, "encoding": {"y": {"field": "y", "type": "quantitative", "scale": {"domain": [12, 110], "nice": false, "zero": false}, "axis": {"orient": "right", "values": [25, 50, 75], "format": ".2f", "title": null}}}},
 {"data": {"name": "rsi"}, "mark": {"type": "line", "color": "#f0a048", "strokeWidth": 0.8}, "encoding": {
  "x": {"field": "t", "type": "temporal", "axis": null, "scale": {"type": "utc", "domain": [{"year": 2019, "month": 1, "date": 15, "hours": 10, "utc": true}, {"year": 2019, "month": 9, "date": 11, "hours": 19, "utc": true}]}},
  "y": {"field": "r", "type": "quantitative"}}}
]
},
{
"width": 451, "height": 31,
"layer": [
 {"data": {"values": [{"lo": 20, "hi": 80}]}, "mark": {"type": "rect", "color": "#e3cdf7", "opacity": 0.85}, "encoding": {"y": {"field": "lo", "type": "quantitative", "scale": {"domain": [-11.4, 106.7], "nice": false, "zero": false}, "axis": {"orient": "right", "values": [0, 40, 80], "format": ".2f", "title": null}}, "y2": {"field": "hi"}}},
 {"data": {"name": "st"}, "mark": {"type": "line", "strokeWidth": 0.7}, "encoding": {
  "x": {"field": "t", "type": "temporal", "scale": {"type": "utc", "domain": [{"year": 2019, "month": 1, "date": 15, "hours": 10, "utc": true}, {"year": 2019, "month": 9, "date": 11, "hours": 19, "utc": true}]},
   "axis": {"values": [{"year": 2019, "month": 2, "date": 1, "utc": true}, {"year": 2019, "month": 2, "date": 15, "utc": true}, {"year": 2019, "month": 3, "date": 1, "utc": true}, {"year": 2019, "month": 3, "date": 18, "utc": true}, {"year": 2019, "month": 4, "date": 1, "utc": true}, {"year": 2019, "month": 4, "date": 15, "utc": true}, {"year": 2019, "month": 5, "date": 1, "utc": true}, {"year": 2019, "month": 5, "date": 15, "utc": true}, {"year": 2019, "month": 6, "date": 1, "utc": true}, {"year": 2019, "month": 6, "date": 17, "utc": true}, {"year": 2019, "month": 7, "date": 1, "utc": true}, {"year": 2019, "month": 7, "date": 15, "utc": true}, {"year": 2019, "month": 8, "date": 1, "utc": true}, {"year": 2019, "month": 8, "date": 15, "utc": true}, {"year": 2019, "month": 9, "date": 1, "utc": true}],
    "labelExpr": "utcdate(datum.value) == 1 ? (utcmonth(datum.value) == 8 ? 'Sep' : utcFormat(datum.value, \"%d %b '%y\")) : utcFormat(datum.value, '%d')",
    "title": "Created with TradingView", "titleAnchor": "start", "titleAlign": "left", "titleFontSize": 5.5, "titleFontWeight": "normal", "titleColor": "#444", "titlePadding": 3, "labelOverlap": false, "labelFlush": false}},
  "y": {"field": "v", "type": "quantitative"},
  "detail": {"field": "s"},
  "stroke": {"field": "s", "type": "nominal", "legend": null, "scale": {"domain": ["K", "D"], "range": ["#8f86c9", "#a0a0a0"]}}}}
]
}
],
"config": {
 "font": "Liberation Sans",
 "view": {"stroke": "#7a7a7a", "strokeWidth": 0.8},
 "axis": {"labelFont": "Liberation Sans", "labelFontSize": 5, "labelColor": "#333333", "tickColor": "#888888", "tickSize": 1.5, "domain": false, "grid": false, "labelPadding": 0.5, "titleFont": "Liberation Sans"}
}
}
